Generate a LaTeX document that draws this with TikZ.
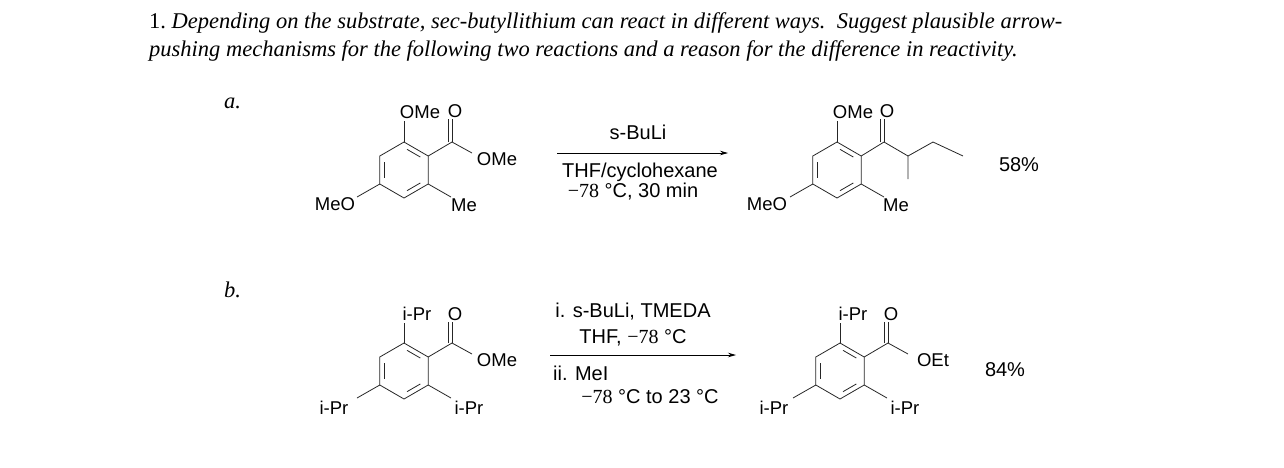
\documentclass[tikz,border=0pt]{standalone}
\usepackage{fontspec}
\setmainfont{Liberation Serif}
\setsansfont{Liberation Sans}
\usetikzlibrary{calc,arrows.meta}
\newcommand\myring[3]{%
 \coordinate (#1c) at (#2,#3);
 \coordinate (#1t) at (#2,#3-28);
 \coordinate (#1ur) at (#2+24.2,#3-14);
 \coordinate (#1lr) at (#2+24.2,#3+14);
 \coordinate (#1b) at (#2,#3+28);
 \coordinate (#1ll) at (#2-24.2,#3+14);
 \coordinate (#1ul) at (#2-24.2,#3-14);
 \draw[bond] (#1t)--(#1ur)--(#1lr)--(#1b)--(#1ll)--(#1ul)--cycle;
 \draw[bond,shorten <=3.5pt,shorten >=3.5pt] ($(#1c)!0.8!(#1ul)$)--($(#1c)!0.8!(#1ll)$);
 \draw[bond,shorten <=3.5pt,shorten >=3.5pt] ($(#1c)!0.8!(#1t)$)--($(#1c)!0.8!(#1ur)$);
 \draw[bond,shorten <=3.5pt,shorten >=3.5pt] ($(#1c)!0.8!(#1b)$)--($(#1c)!0.8!(#1lr)$);
}
\tikzset{
 bond/.style={line width=0.8pt,black!85},
 lbl/.style={font=\sffamily\fontsize{18.5}{22}\selectfont,inner sep=0pt},
 rg/.style={font=\sffamily\fontsize{20}{24}\selectfont,inner sep=0pt},
 head/.style={font=\fontsize{22.5}{26}\selectfont\itshape,inner sep=0pt,anchor=west},
 rxn/.style={-{Stealth[length=8pt,width=4.5pt]},line width=0.8pt},
}
\begin{document}
\begin{tikzpicture}[x=1pt,y=-1pt]
\useasboundingbox (0,0) rectangle (1284,467);
\node[head] (h1) at (149,23) {\upshape 1.\ \itshape Depending on the substrate, sec-butyllithium can react in different ways.\ \ Suggest plausible arrow-};
\node[head] (h2) at (149,51) {pushing mechanisms for the following two reactions and a reason for the difference in reactivity.};
\node[head] (la) at (224,103) {a.};
\node[head] (lb) at (224,290) {b.};
% ---- a substrate
\myring{A}{404}{170}
\coordinate (Ao) at (404,121);
\draw[bond] (At)--(Ao);
\node[lbl] (AOMe1) at (420,112) {OMe};
\coordinate (Acc) at (452,142);
\draw[bond] (Aur)--(Acc);
\draw[bond] (Acc)--(452,119) (Acc)++(-4,0)--++(0,-23);
\node[lbl] (AO) at (455,111) {O};
\draw[bond] (Acc)--(472,153);
\node[lbl] (AOMe2) at (497,159) {OMe};
\draw[bond] (Alr)--(451,197);
\node[lbl] (AMe) at (464,205) {Me};
\draw[bond] (All)--(357,197);
\node[lbl] (AMeO) at (335,204) {MeO};
% ---- a product
\myring{P}{837}{170}
\draw[bond] (Pt)--(837,121);
\node[lbl] (POMe1) at (853,112) {OMe};
\coordinate (Pcc) at (884,142);
\draw[bond] (Pur)--(Pcc);
\draw[bond] (Pcc)--(884,119) (Pcc)++(-4,0)--++(0,-23);
\node[lbl] (PO) at (887,111) {O};
\coordinate (Pch) at (908,156);
\draw[bond] (Pcc)--(Pch)--(908,179);
\draw[bond] (Pch)--(933,142)--(963,156);
\draw[bond] (Plr)--(884,197);
\node[lbl] (PMe) at (896,205) {Me};
\draw[bond] (Pll)--(790,197);
\node[lbl] (PMeO) at (767,204) {MeO};
\node[rg] (ya) at (1019,165) {58\%};
% ---- arrow a
\coordinate (a1) at (557,153); \coordinate (a2) at (728,153);
\draw[rxn] (a1)--(a2);
\node[rg] (ra1) at (638,132) {s-BuLi};
\node[rg] (ra2) at (640,172) {THF/cyclohexane};
\node[rg] (ra3) at (633,192) {\rmfamily −78\sffamily\ °C, 30 min};
% ---- b substrate
\myring{B}{404}{371}
\draw[bond] (Bt)--(404,323);
\node[lbl] (Bip1) at (417,314) {i-Pr};
\coordinate (Bcc) at (452,343);
\draw[bond] (Bur)--(Bcc);
\draw[bond] (Bcc)--(452,322) (Bcc)++(-4,0)--++(0,-21);
\node[lbl] (BO) at (455,314) {O};
\draw[bond] (Bcc)--(472,354);
\node[lbl] (BOMe) at (497,360) {OMe};
\draw[bond] (Blr)--(451,398);
\node[lbl] (Bip2) at (469,408) {i-Pr};
\draw[bond] (Bll)--(357,398);
\node[lbl] (Bip3) at (334,408) {i-Pr};
% ---- b product
\myring{Q}{840}{371}
\draw[bond] (Qt)--(840,323);
\node[lbl] (Qip1) at (853,314) {i-Pr};
\coordinate (Qcc) at (888,343);
\draw[bond] (Qur)--(Qcc);
\draw[bond] (Qcc)--(888,322) (Qcc)++(-4,0)--++(0,-21);
\node[lbl] (QO) at (891,314) {O};
\draw[bond] (Qcc)--(908,354);
\node[lbl] (QOEt) at (933,360) {OEt};
\draw[bond] (Qlr)--(887,398);
\node[lbl] (Qip2) at (905,408) {i-Pr};
\draw[bond] (Qll)--(793,398);
\node[lbl] (Qip3) at (774,408) {i-Pr};
\node[rg] (yb) at (1005,370) {84\%};
% ---- arrow b
\coordinate (b1) at (550,355); \coordinate (b2) at (736,355);
\draw[rxn] (b1)--(b2);
\node[rg] (rb1) at (633,312) {i. s-BuLi, TMEDA};
\node[rg] (rb2) at (633,338) {THF, \rmfamily −78\sffamily\ °C};
\node[rg,anchor=west] (rb3) at (553,373) {ii. MeI};
\node[rg] (rb4) at (650,397) {\rmfamily −78\sffamily\ °C to 23 °C};
\end{tikzpicture}
\end{document}
